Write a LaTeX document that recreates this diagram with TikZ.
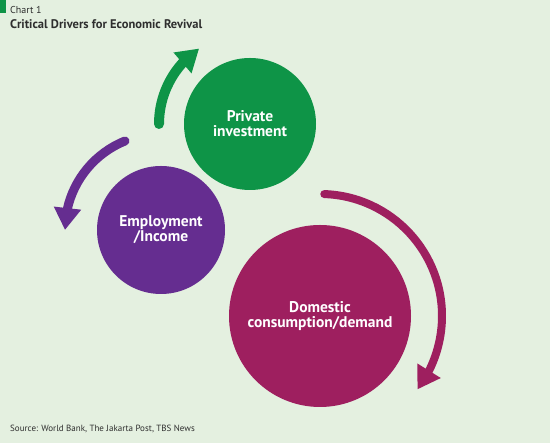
\documentclass[tikz,border=0pt]{standalone}
\usepackage{fontspec}
\setmainfont{PT Sans}
\usetikzlibrary{arrows.meta,bending}
\definecolor{paper}{HTML}{E4F0E0}
\definecolor{ink}{HTML}{2E2E2E}
\definecolor{green}{HTML}{0E9447}
\definecolor{purple}{HTML}{652D90}
\definecolor{magenta}{HTML}{9E1F5F}
\tikzset{
  driver/.style={circle, inner sep=0pt, text=white, align=center, font=\bfseries\fontsize{15.5}{15}\selectfont},
  cycle/.style={line width=10pt, line cap=round, -{Triangle[width=26pt,length=22pt]}},
  caption/.style={anchor=base west, inner sep=0pt, text=ink}
}
\begin{document}
\begin{tikzpicture}[x=1pt,y=1pt]
\useasboundingbox[fill=paper] (0,0) rectangle (550,443);
\fill[green] (0,443) rectangle (6,430);
\node[caption, font=\fontsize{10}{12}\selectfont] (chart) at (10,429) {Chart 1};
\node[caption, font=\bfseries\fontsize{12.5}{14}\selectfont] (title) at (10,414) {Critical Drivers for Economic Revival};
\node[caption, font=\fontsize{9}{11}\selectfont] (source) at (10,11) {Source: World Bank, The Jakarta Post, TBS News};
% the three drivers
\node[driver, fill=green, minimum size=132pt] (inv) at (250,319) {Private\\investment};
\node[driver, fill=purple, minimum size=128pt] (emp) at (161,213) {Employment\\/Income};
\node[driver, fill=magenta, minimum size=182pt] (dem) at (320,127) {Domestic\\consumption/demand};
% arrows round them
\draw[cycle, draw=green] ([shift={(180:91pt)}]inv.center) arc[start angle=180, end angle=124, radius=91pt];
\draw[cycle, draw=purple, line width=9pt] ([shift={(112:96pt)}]emp.center) arc[start angle=112, end angle=180, radius=96pt];
\draw[cycle, draw=magenta, line width=8pt] ([shift={(88:122pt)}]dem.center) arc[start angle=88, end angle=-37, radius=122pt];
\end{tikzpicture}
\end{document}
